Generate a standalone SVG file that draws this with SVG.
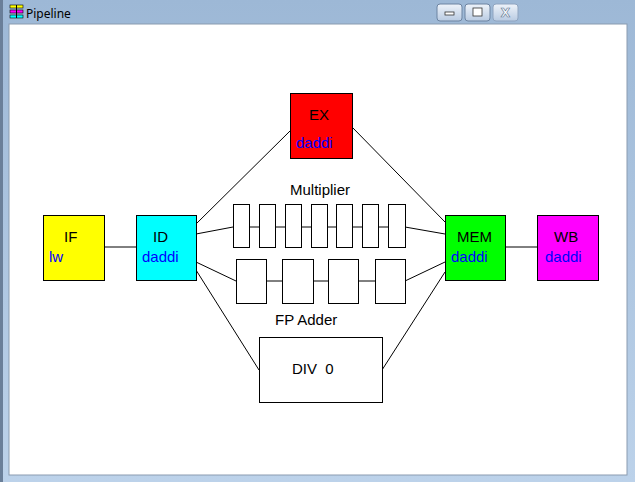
<svg xmlns="http://www.w3.org/2000/svg" width="635" height="482" viewBox="0 0 635 482">
<defs>
<linearGradient id="tb" x1="0" y1="0" x2="0" y2="1"><stop offset="0" stop-color="#9db8d6"/><stop offset="1" stop-color="#bcd2ea"/></linearGradient>
<linearGradient id="btn" x1="0" y1="0" x2="0" y2="1"><stop offset="0" stop-color="#eef3fa"/><stop offset="1" stop-color="#b9cbe2"/></linearGradient>
</defs>
<style>
.n{stroke:#000;stroke-width:1}
.t{font-family:"Liberation Sans",Arial,sans-serif;font-size:15px;fill:#000}
.b{font-family:"Liberation Sans",Arial,sans-serif;font-size:15px;fill:#0000ff}
.c line{stroke:#000;stroke-width:1}
</style>
<rect x="0" y="0" width="635" height="482" fill="url(#tb)"/>
<rect x="0" y="0" width="3" height="482" fill="#6a7f99"/>
<rect x="9" y="24" width="618" height="451" fill="#fff" stroke="#8a9bb0"/>
<g id="titlebar">
<rect x="10" y="5" width="13" height="3" fill="#ff0" stroke="#000" stroke-width="0.6"/>
<rect x="10" y="10" width="13" height="3" fill="#f0f" stroke="#000" stroke-width="0.6"/>
<rect x="10" y="15" width="13" height="3" fill="#0ff" stroke="#000" stroke-width="0.6"/>
<line x1="16.5" y1="5" x2="16.5" y2="18" stroke="#000"/>
<text x="26" y="18" font-family="Segoe UI,'Noto Sans',sans-serif" font-size="12" fill="#000">Pipeline</text>
<rect x="437" y="4" width="25" height="17" rx="3" fill="url(#btn)" stroke="#6d84a2"/>
<rect x="445" y="12" width="9" height="3" fill="#fff" stroke="#333" stroke-width="0.8"/>
<rect x="465" y="4" width="25" height="17" rx="3" fill="url(#btn)" stroke="#6d84a2"/>
<rect x="473" y="8" width="9" height="8" fill="#fff" stroke="#333" stroke-width="0.8"/>
<rect x="493" y="4" width="25" height="17" rx="3" fill="url(#btn)" stroke="#8fa4c0"/>
<text x="505.5" y="17" text-anchor="middle" font-family="'DejaVu Sans',sans-serif" font-size="12" font-weight="bold" fill="#fff" stroke="#6a7f99" stroke-width="0.7">X</text>
</g>
<g class="c" id="connectors">
<line x1="104" y1="247" x2="136" y2="247"/>
<line x1="196" y1="224" x2="290" y2="131"/>
<line x1="352" y1="127" x2="445" y2="222"/>
<line x1="196" y1="234" x2="233" y2="227"/>
<line x1="405" y1="227" x2="445" y2="234"/>
<line x1="196" y1="262" x2="236" y2="281"/>
<line x1="405" y1="281" x2="445" y2="262"/>
<line x1="196" y1="270" x2="259" y2="370"/>
<line x1="382" y1="370" x2="445" y2="272"/>
<line x1="505" y1="247" x2="537" y2="247"/>
<line x1="233" y1="227" x2="405" y2="227"/>
<line x1="236" y1="281" x2="405" y2="281"/>
</g>
<g id="IF"><rect class="n" x="43.5" y="215.5" width="61" height="65" fill="#ff0"/><text class="t" x="64" y="242">IF</text><text class="b" x="49" y="262">lw</text></g>
<g id="ID"><rect class="n" x="136.5" y="215.5" width="60" height="65" fill="#0ff"/><text class="t" x="153" y="242">ID</text><text class="b" x="142" y="262">daddi</text></g>
<g id="EX"><rect class="n" x="290.5" y="93.5" width="62" height="65" fill="#f00"/><text class="t" x="309" y="120">EX</text><text class="b" x="296" y="148">daddi</text></g>
<g id="MEM"><rect class="n" x="445.5" y="215.5" width="60" height="65" fill="#0f0"/><text class="t" x="457" y="242">MEM</text><text class="b" x="451" y="262">daddi</text></g>
<g id="WB"><rect class="n" x="537.5" y="215.5" width="61" height="65" fill="#f0f"/><text class="t" x="554" y="242">WB</text><text class="b" x="545" y="262">daddi</text></g>
<g id="multiplier" fill="#fff">
<text class="t" x="290" y="195">Multiplier</text>
<rect class="n" x="233.5" y="204.5" width="16" height="43"/>
<rect class="n" x="259.5" y="204.5" width="16" height="43"/>
<rect class="n" x="285.5" y="204.5" width="16" height="43"/>
<rect class="n" x="311.5" y="204.5" width="16" height="43"/>
<rect class="n" x="336.5" y="204.5" width="16" height="43"/>
<rect class="n" x="362.5" y="204.5" width="16" height="43"/>
<rect class="n" x="388.5" y="204.5" width="17" height="43"/>
</g>
<g id="fpadder" fill="#fff">
<rect class="n" x="236.5" y="259.5" width="30" height="44"/>
<rect class="n" x="282.5" y="259.5" width="31" height="44"/>
<rect class="n" x="328.5" y="259.5" width="30" height="44"/>
<rect class="n" x="375.5" y="259.5" width="30" height="44"/>
<text class="t" x="275" y="325">FP Adder</text>
</g>
<g id="DIV"><rect class="n" x="259.5" y="337.5" width="123" height="65" fill="#fff"/><text class="t" x="292" y="374" xml:space="preserve">DIV  0</text></g>
</svg>
